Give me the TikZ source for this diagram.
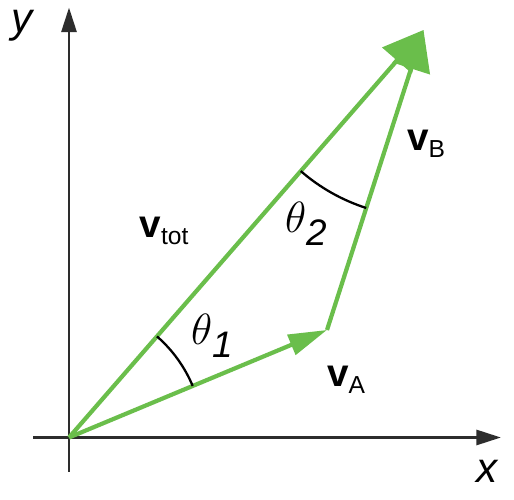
\documentclass[tikz,border=0pt]{standalone}
\usepackage{fontspec}
\setmainfont{Liberation Sans}
\usetikzlibrary{arrows.meta,angles}

\definecolor{vecgreen}{RGB}{106,190,75}
\definecolor{axisgray}{RGB}{45,45,45}

\tikzset{
  axis/.style={draw=axisgray,line width=1.7pt,-{Triangle[length=14pt,width=8.5pt]}},
  vec/.style={draw=vecgreen,line width=2.4pt},
  bighead/.style={-{Triangle[length=23pt,width=22pt]}},
  smallhead/.style={-{Triangle[length=22pt,width=12pt]}},
  arcmark/.style={draw=black,line width=1.3pt},
  axlabel/.style={font=\fontsize{24}{28}\selectfont\itshape},
  veclabel/.style={font=\fontsize{22}{26}\selectfont},
  anglabel/.style={font=\fontsize{30}{34}\selectfont}
}
\newcommand{\vsub}[1]{\textbf{v}\raisebox{-0.35ex}{\fontsize{14}{14}\selectfont #1}}
\newcommand{\thsub}[1]{$\theta$\raisebox{-0.45ex}{\fontsize{21}{21}\selectfont\itshape #1}}

\begin{document}
\begin{tikzpicture}
  \useasboundingbox (0,0) rectangle (10.28,10);
  % points
  \coordinate (O) at (1.38,1.25);
  \coordinate (A) at (6.54,3.40);
  \coordinate (B) at (8.47,9.40);
  \coordinate (xs) at (0.66,1.25);
  \coordinate (xe) at (10.02,1.25);
  \coordinate (ys) at (1.38,0.56);
  \coordinate (ye) at (1.38,9.85);
  % axes
  \draw[axis] (xs) -- (xe);
  \draw[axis] (ys) -- (ye);
  \node[axlabel] (xlab) at (9.74,0.58) {x};
  \node[axlabel] (ylab) at (0.44,9.48) {y};
  % vectors
  \draw[vec,smallhead] (O) -- (A);
  \draw[vec,bighead] (A) -- (B);
  \draw[vec,bighead] (O) -- (B);
  % angles
  \pic[arcmark,angle radius=2.68cm] {angle=A--O--B};
  \pic[arcmark,angle radius=3.74cm] {angle=O--B--A};
  % labels
  \node[veclabel] (vtot) at (3.28,5.38) {\vsub{tot}};
  \node[veclabel] (vB) at (8.52,7.12) {\vsub{B}};
  \node[veclabel] (vA) at (6.92,2.40) {\vsub{A}};
  \node[anglabel] (t1) at (4.24,3.28) {\thsub{1}};
  \node[anglabel] (t2) at (6.12,5.52) {\thsub{2}};
\end{tikzpicture}
\end{document}
